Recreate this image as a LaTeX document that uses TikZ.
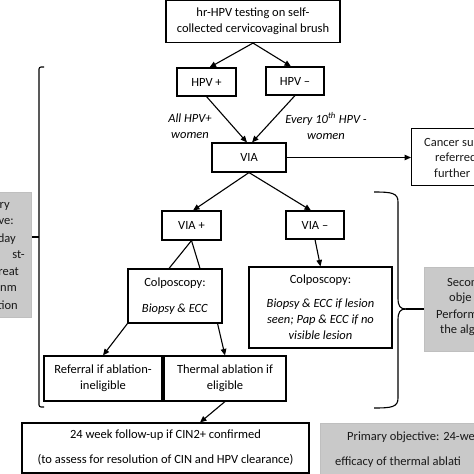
\documentclass[tikz,border=0pt]{standalone}
\usepackage{fontspec}
\setmainfont{Carlito}
\usetikzlibrary{arrows.meta}
\begin{document}
\begin{tikzpicture}[x=1pt,y=-1pt,
  every node/.style={font=\fontsize{12.5}{16}\selectfont, inner sep=0pt},
  box/.style={draw, line width=1.1pt, align=center, minimum width=#1},
  obj/.style={fill=black!21, draw=black!25, line width=0.6pt},
  frag/.style={text=black!90},
  conn/.style={line width=1.1pt},
  arr/.style={conn, -{Triangle[length=6.5pt,width=5.5pt]}},
  lab/.style={font=\fontsize{12.5}{16}\selectfont\itshape, align=center}]
\useasboundingbox (0,0) rectangle (474,474);
\clip (0,0) rectangle (474,474);
% boxes
\node[box=174, minimum height=42] (top) at (253,21.5) {hr-HPV testing on self-\\collected cervicovaginal brush};
\node[box=59, minimum height=28] (hpvp) at (206.5,82) {HPV +};
\node[box=58, minimum height=28] (hpvn) at (295,81) {HPV --};
\node[box=74, minimum height=29] (via) at (249,157.5) {VIA};
\node[box=59, minimum height=29] (viap) at (191.5,225.5) {VIA +};
\node[box=58, minimum height=28] (vian) at (315,225) {VIA --};
\node[box=94, minimum height=54] (colpl) at (175,296) {Colposcopy:\\[10pt]\textit{Biopsy \& ECC}};
\node[box=143, minimum height=81] (colpr) at (320.5,307.5) {Colposcopy:\\[8pt]\textit{Biopsy \& ECC if lesion}\\\textit{seen; Pap \& ECC if no}\\\textit{visible lesion}};
\node[box=118, minimum height=45] (refer) at (103,378.5) {Referral if ablation-\\ineligible};
\node[box=122, minimum height=45] (therm) at (225,378.5) {Thermal ablation if\\eligible};
\node[box=287, minimum height=50] (follow) at (165.5,448) {24 week follow-up if CIN2+ confirmed\\[9pt](to assess for resolution of CIN and HPV clearance)};
% cut-off boxes
\node[draw, line width=1.1pt, minimum width=80, minimum height=57, anchor=north west] (cancer) at (411,128) {};
\node[frag, anchor=west] (c1) at (424,142) {Cancer su};
\node[frag, anchor=west] (c2) at (435,157) {referred};
\node[frag, anchor=west] (c3) at (434,173) {further};
\node[obj, minimum width=60, minimum height=125, anchor=north east] (lobj) at (32,192) {};
\node[frag, anchor=east] (l1) at (10,206) {ry};
\node[frag, anchor=east] (l2) at (14,222) {ve:};
\node[frag, anchor=east] (l3) at (16,239) {day};
\node[frag, anchor=east] (l4) at (25,255) {st-};
\node[frag, anchor=east] (l5) at (19,272) {reat};
\node[frag, anchor=east] (l6) at (17,288) {nm};
\node[frag, anchor=east] (l7) at (18,305) {tion};
\node[obj, minimum width=70, minimum height=84, anchor=north west] (robj) at (424,267) {};
\node[frag, anchor=west] (r1) at (447,282) {Secon};
\node[frag, anchor=west] (r2) at (449,298) {obje};
\node[frag, anchor=west] (r3) at (436,314) {Perform};
\node[frag, anchor=west] (r4) at (440,330) {the alg};
\node[obj, minimum width=170, minimum height=60, anchor=north west] (pobj) at (320,423) {};
\node[frag, anchor=west] (p1) at (347,437) {Primary objective: 24-we};
\node[frag, anchor=west] (p2) at (335,462) {efficacy of thermal ablati};
% labels
\node[lab] (labp) at (190,126) {All HPV+\\women};
\node[lab] (labn) at (326,126) {Every 10\textsuperscript{th} HPV -\\women};
% connectors
\draw[arr] (top.south) -- ([xshift=3pt]hpvp.north);
\draw[arr] (top.south) -- ([xshift=-4pt]hpvn.north);
\draw[arr] (hpvp.south) -- ([xshift=-2pt]via.north);
\draw[arr] (hpvn.south) -- ([xshift=3pt]via.north);
\draw[arr] (via.east) -- (cancer.west|-via.east);
\draw[arr] (via.south) -- ([xshift=1.5pt]viap.north);
\draw[arr] (via.south) -- ([xshift=-4pt]vian.north);
\draw[conn] (viap.south) -- ([xshift=-6pt]colpl.north);
\draw[conn] (viap.south) -- ([xshift=25pt]colpl.north);
\draw[arr] (vian.south) -- (colpr.north);
\draw[arr] (colpl.south west) -- (refer.north);
\draw[arr] ([xshift=-5pt]colpl.south east) -- (therm.north);
\draw[arr] (therm.south) -- ([xshift=34.5pt]follow.north);
% left bracket
\draw[conn, rounded corners=2pt] (44,67) -- (39,67) -- (39,407) -- (44,407);
\draw[conn] (39,237) -- (lobj.east|-39,237);
% right brace
\coordinate (bp) at (406,309);
\draw[conn] (374,192) .. controls (392,192) and (398,193) .. (398,202) -- (398,298) .. controls (398,306) and (400,309) .. (bp);
\draw[conn] (bp) .. controls (400,309) and (398,312) .. (398,320) -- (398,398) .. controls (398,407) and (392,408) .. (374,408);
\draw[conn] (bp) -- (robj.west|-bp);
\end{tikzpicture}
\end{document}
